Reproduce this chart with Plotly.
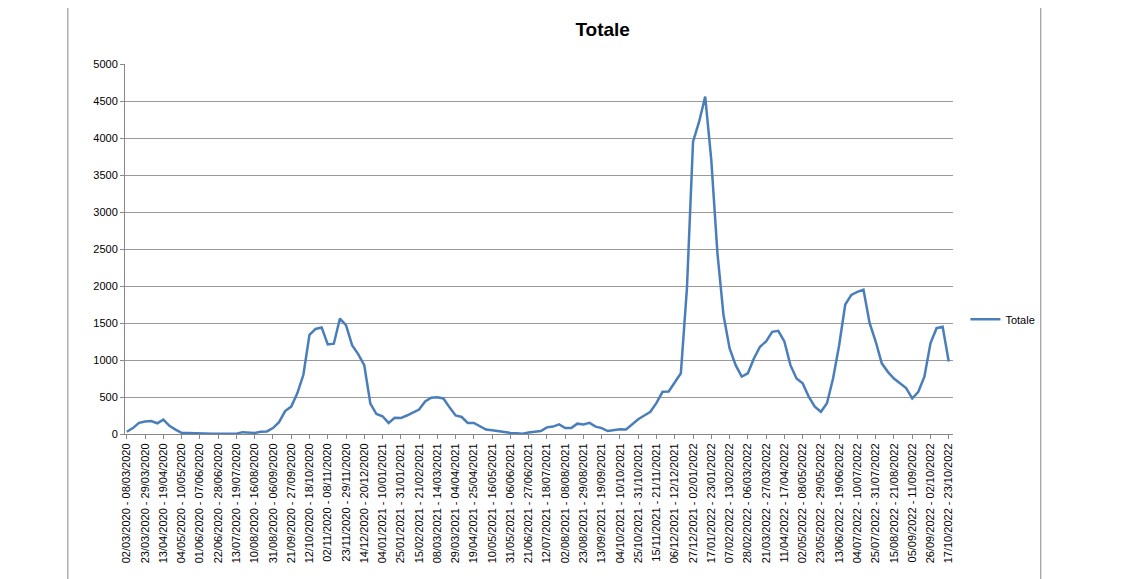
import pandas as pd
import plotly.graph_objects as go

# weekly totals (136 reported weeks from 02/03/2020)
totale = [
    30, 80, 150, 170, 175, 145, 195, 110, 60, 15,
    15, 10, 5, 5, 5, 5, 5, 5, 5,
    25, 20, 15, 30, 35, 80, 160, 310, 370,
    550, 800, 1340, 1420, 1440, 1210, 1220, 1560, 1470, 1200,
    1080, 930, 410, 270, 240, 150, 220, 215, 250, 295,
    330, 440, 490, 495, 480, 360, 250, 230, 150, 150,
    110, 60, 50, 35, 25, 15, 10, 5, 20, 30,
    40, 90, 100, 130, 80, 80, 140, 130, 150, 100,
    80, 40, 50, 65, 60, 130, 200, 250, 300, 420,
    570, 575, 690, 820, 1970, 3950, 4220, 4560, 3700, 2450,
    1610, 1160, 930, 775, 820, 1020, 1180, 1250, 1380, 1395,
    1250, 930, 750, 685, 505, 370, 300, 415, 750, 1200,
    1750, 1880, 1920, 1950, 1500, 1250, 955, 840, 750, 685,
    620, 480, 570, 775, 1225, 1430, 1450, 980,
]
missing_weeks = ["2020-05-25", "2020-08-03"]

starts = pd.date_range("2020-03-02", "2022-10-17", freq="7D")
starts = starts[~starts.isin(pd.to_datetime(missing_weeks))]
weeks = [f"{s:%d/%m/%Y} - {(s + pd.Timedelta(days=6)):%d/%m/%Y}" for s in starts]
tick_weeks = weeks[::3]

fig = go.Figure()
fig.add_trace(go.Scatter(x=weeks, y=totale, mode="lines", name="Totale",
                         line=dict(color="#4a7ebb", width=2.5)))

fig.update_layout(
    width=1122, height=579,
    title=dict(text="<b>Totale</b>", x=0.53, y=0.975, font=dict(size=19, color="black")),
    font=dict(family="Liberation Sans", size=11, color="black"),
    plot_bgcolor="white", paper_bgcolor="white",
    margin=dict(l=117, r=177, t=56, b=153),
    showlegend=True,
    legend=dict(x=1.015, y=0.31, yanchor="middle", font=dict(size=11)),
    shapes=[
        dict(type="line", xref="paper", yref="paper", x0=-0.069, x1=-0.069, y0=-0.5, y1=1.2,
             line=dict(color="#888", width=1)),
        dict(type="line", xref="paper", yref="paper", x0=1.106, x1=1.106, y0=-0.5, y1=1.2,
             line=dict(color="#888", width=1)),
        dict(type="line", xref="paper", yref="paper", x0=-0.057, x1=0.108, y0=1.168, y1=1.168,
             line=dict(color="#888", width=1)),
    ],
)
fig.update_xaxes(type="category", tickmode="array", tickvals=tick_weeks, ticktext=tick_weeks,
                 range=[-0.3, len(weeks) - 0.3],
                 tickangle=-90, showgrid=False, showline=True, linecolor="#888",
                 ticks="outside", ticklen=4, tickcolor="#888", tickfont=dict(size=11))
fig.update_yaxes(range=[0, 5000], dtick=500, showgrid=True, gridcolor="#999", gridwidth=1,
                 showline=True, linecolor="#888", ticks="outside", ticklen=4, tickcolor="#888",
                 zeroline=False, tickfont=dict(size=11))

fig.write_html("out.html")
